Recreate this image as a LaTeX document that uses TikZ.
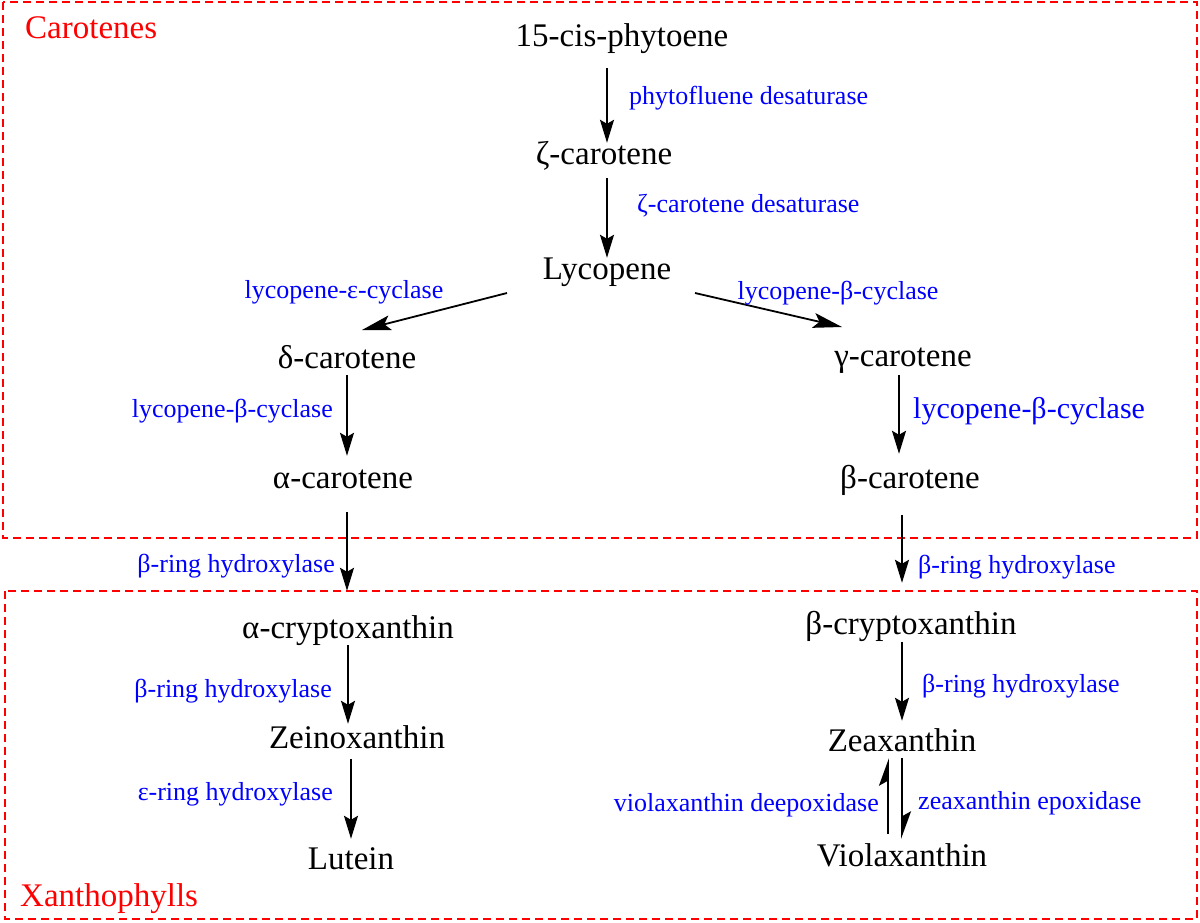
\documentclass[tikz,border=0pt]{standalone}
\usepackage{fontspec}
\setmainfont{Liberation Serif}
\usetikzlibrary{arrows.meta}

\begin{document}
\begin{tikzpicture}[x=1pt,y=-1pt,
mol/.style={font=\fontsize{33}{38}\selectfont,text height=21pt,text depth=7pt,inner sep=0pt,anchor=base},
enz/.style={text=blue,font=\fontsize{26}{30}\selectfont,inner sep=0pt},
grp/.style={text=red,font=\fontsize{33}{38}\selectfont,inner sep=0pt,anchor=base west},
box/.style={draw=red,line width=2.5pt,dash pattern=on 8pt off 5pt},
rx/.style={-{Stealth[length=23pt,width=14pt,inset=4pt]},line width=1.8pt},
dx/.style={-{Stealth[length=29pt,width=15pt,inset=6pt]},line width=1.8pt},
hx/.style={-{Stealth[harpoon,length=25pt,width=18pt,inset=5pt]},line width=1.8pt}]
\useasboundingbox (0,0) rectangle (1200,922);

\draw[box] (3,2) rectangle (1197,538);
\draw[box] (5,591) rectangle (1197,919);
\node[grp] (car) at (25,38) {Carotenes};
\node[grp] (xan) at (20,906) {Xanthophylls};

\node[mol] (phyt) at (622,46) {15-cis-phytoene};
\node[mol] (zcar) at (604,164) {ζ-carotene};
\node[mol] (lyc) at (607,279) {Lycopene};
\node[mol] (dcar) at (347,368) {δ-carotene};
\node[mol] (gcar) at (903,366) {γ-carotene};
\node[mol] (acar) at (343,488) {α-carotene};
\node[mol] (bcar) at (910,488) {β-carotene};
\node[mol] (acry) at (348,638) {α-cryptoxanthin};
\node[mol] (bcry) at (911,634) {β-cryptoxanthin};
\node[mol] (zein) at (357,748) {Zeinoxanthin};
\node[mol] (zea) at (902,751) {Zeaxanthin};
\node[mol] (lut) at (351,869) {Lutein};
\node[mol] (vio) at (902,866) {Violaxanthin};

\draw[rx,shorten <=15pt] (phyt.south -| lyc) -- (zcar.north -| lyc);
\draw[rx,shorten <=7pt] (zcar.south -| lyc) -- (lyc.north);
\draw[dx] ([shift={(-100pt,-14pt)}]lyc.base) -- ([shift={(15pt,38pt)}]dcar.base);
\draw[dx] ([shift={(88pt,-14pt)}]lyc.base) -- ([shift={(-61pt,39pt)}]gcar.base);
\draw[rx,shorten >=11pt] (dcar.south) -- (dcar.south |- acar.north);
\draw[rx,shorten <=2pt,shorten >=13pt] ([xshift=-4pt]gcar.south) -- ([xshift=-4pt]gcar.south |- bcar.north);
\draw[rx,shorten <=17pt,shorten >=26pt] (acar.south -| dcar) -- (acry.north -| dcar);
\draw[rx,shorten <=20pt,shorten >=30pt] (bcar.south -| zea) -- (bcry.north -| zea);
\draw[rx,shorten >=3pt] (acry.south) -- (acry.south |- zein.north);
\draw[rx,shorten <=1pt,shorten >=9pt] (bcry.south -| zea) -- (zea.north);
\draw[rx,shorten <=4pt,shorten >=9pt] (lut.north |- zein.south) -- (lut.north);
\draw[hx,shorten <=11pt] ([xshift=-14pt]vio.north) -- ([xshift=-14pt]vio.north |- zea.south);
\draw[hx,shorten >=6pt] (zea.south) -- (zea.south |- vio.north);

\node[enz,anchor=base west] (pds) at (629,104) {phytofluene desaturase};
\node[enz,anchor=base west] (zds) at (637,212) {ζ-carotene desaturase};
\node[enz,anchor=base] (lcye) at (344,298) {lycopene-ε-cyclase};
\node[enz,anchor=base] (lcyb1) at (838,299) {lycopene-β-cyclase};
\node[enz,anchor=base east] (lcyb2) at (333,417) {lycopene-β-cyclase};
\node[enz,anchor=base west,font=\fontsize{30}{34}\selectfont] (lcyb3) at (913,418) {lycopene-β-cyclase};
\node[enz,anchor=base east] (bhy1) at (335,572) {β-ring hydroxylase};
\node[enz,anchor=base west] (bhy2) at (918,573) {β-ring hydroxylase};
\node[enz,anchor=base east] (bhy3) at (332,697) {β-ring hydroxylase};
\node[enz,anchor=base west] (bhy4) at (922,692) {β-ring hydroxylase};
\node[enz,anchor=base east] (ehy) at (333,800) {ε-ring hydroxylase};
\node[enz,anchor=base east] (vde) at (879,811) {violaxanthin deepoxidase};
\node[enz,anchor=base west] (zep) at (918,809) {zeaxanthin epoxidase};
\end{tikzpicture}
\end{document}
